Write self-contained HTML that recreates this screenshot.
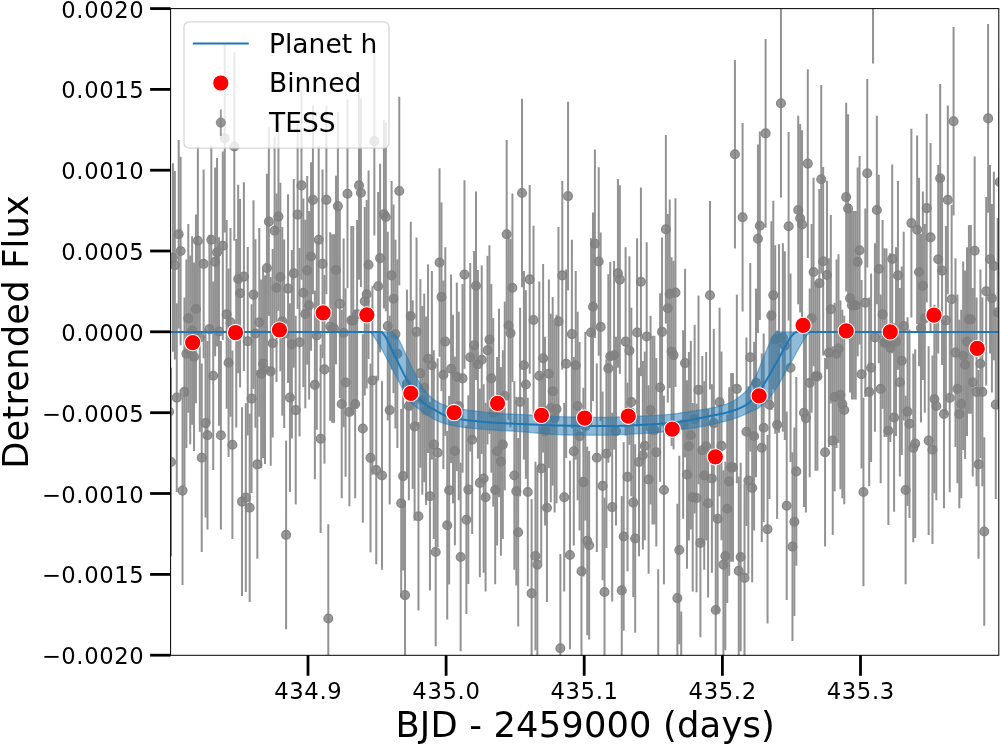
<!DOCTYPE html><html><head><meta charset="utf-8"><title>Transit</title><style>html,body{margin:0;padding:0;background:#fff}svg{display:block}text{font-family:"DejaVu Sans","Liberation Sans",sans-serif;fill:#000}</style></head><body>
<svg width="1000" height="745" viewBox="0 0 1000 745">
<rect width="1000" height="745" fill="#fff"/>
<defs><clipPath id="c"><rect x="170.6" y="8.6" width="828.1999999999999" height="646.6999999999999"/></clipPath></defs>
<g clip-path="url(#c)">
<g stroke="#808080" stroke-opacity="0.86" stroke-width="2.0" fill="none">
<path d="M169.11 317.5V506.1"/>
<path d="M171.03 367.7V556.3"/>
<path d="M172.95 163.2V351.8"/>
<path d="M174.86 171.0V359.6"/>
<path d="M176.78 303.3V491.9"/>
<path d="M178.70 140.0V328.6"/>
<path d="M180.62 156.7V345.3"/>
<path d="M182.54 396.3V584.9"/>
<path d="M184.45 297.6V486.2"/>
<path d="M186.37 259.4V448.0"/>
<path d="M188.29 224.1V412.7"/>
<path d="M190.21 255.6V444.2"/>
<path d="M192.13 236.2V424.8"/>
<path d="M194.04 262.4V451.0"/>
<path d="M195.96 214.6V403.2"/>
<path d="M197.88 146.5V335.1"/>
<path d="M199.80 243.2V431.8"/>
<path d="M201.72 363.4V552.0"/>
<path d="M203.63 169.6V358.2"/>
<path d="M205.55 328.8V517.4"/>
<path d="M207.47 340.9V529.5"/>
<path d="M209.39 234.8V423.4"/>
<path d="M211.31 145.5V334.1"/>
<path d="M213.22 281.5V470.1"/>
<path d="M215.14 167.6V356.2"/>
<path d="M217.06 158.0V346.6"/>
<path d="M218.98 237.2V425.8"/>
<path d="M220.90 340.9V529.5"/>
<path d="M222.81 151.5V340.1"/>
<path d="M224.73 43.8V232.4"/>
<path d="M226.65 220.1V408.7"/>
<path d="M228.57 268.4V457.0"/>
<path d="M230.49 228.1V416.7"/>
<path d="M232.40 350.5V539.1"/>
<path d="M234.32 52.2V240.8"/>
<path d="M236.24 238.9V427.5"/>
<path d="M238.16 184.7V373.3"/>
<path d="M240.08 198.9V387.5"/>
<path d="M241.99 407.3V595.9"/>
<path d="M243.91 182.3V370.9"/>
<path d="M245.83 403.3V591.9"/>
<path d="M247.75 246.9V435.5"/>
<path d="M249.67 413.4V602.0"/>
<path d="M251.58 304.3V492.9"/>
<path d="M253.50 200.3V388.9"/>
<path d="M255.42 239.2V427.8"/>
<path d="M257.34 370.1V558.7"/>
<path d="M259.26 228.1V416.7"/>
<path d="M261.17 279.5V468.1"/>
<path d="M263.09 269.4V458.0"/>
<path d="M265.01 275.4V464.0"/>
<path d="M266.93 173.7V362.3"/>
<path d="M268.85 127.3V315.9"/>
<path d="M270.76 277.1V465.7"/>
<path d="M272.68 248.9V437.5"/>
<path d="M274.60 136.4V325.0"/>
<path d="M276.52 193.5V382.1"/>
<path d="M278.44 122.3V310.9"/>
<path d="M280.35 182.7V371.3"/>
<path d="M282.27 227.1V415.7"/>
<path d="M284.19 239.5V428.1"/>
<path d="M286.11 440.6V629.2"/>
<path d="M288.03 194.3V382.9"/>
<path d="M289.94 303.3V491.9"/>
<path d="M291.86 249.9V438.5"/>
<path d="M293.78 179.1V367.7"/>
<path d="M295.70 315.8V504.4"/>
<path d="M297.62 120.3V308.9"/>
<path d="M299.53 247.9V436.5"/>
<path d="M301.45 91.1V279.7"/>
<path d="M303.37 198.5V387.1"/>
<path d="M305.29 219.7V408.3"/>
<path d="M307.21 176.1V364.7"/>
<path d="M309.12 211.0V399.6"/>
<path d="M311.04 162.2V350.8"/>
<path d="M312.96 105.6V294.2"/>
<path d="M314.88 290.6V479.2"/>
<path d="M316.80 241.2V429.8"/>
<path d="M318.71 145.5V334.1"/>
<path d="M320.63 344.5V533.1"/>
<path d="M322.55 169.6V358.2"/>
<path d="M324.47 275.1V463.7"/>
<path d="M326.39 105.6V294.2"/>
<path d="M328.30 524.2V712.8"/>
<path d="M330.22 232.2V420.8"/>
<path d="M332.14 234.2V422.8"/>
<path d="M334.06 234.2V422.8"/>
<path d="M335.98 175.7V364.3"/>
<path d="M337.89 111.8V300.4"/>
<path d="M339.81 209.6V398.2"/>
<path d="M341.73 309.7V498.3"/>
<path d="M343.65 238.6V427.2"/>
<path d="M345.57 288.2V476.8"/>
<path d="M347.48 99.5V288.1"/>
<path d="M349.40 317.7V506.3"/>
<path d="M351.32 226.1V414.7"/>
<path d="M353.24 226.1V414.7"/>
<path d="M355.16 309.7V498.3"/>
<path d="M357.07 220.1V408.7"/>
<path d="M358.99 91.1V279.7"/>
<path d="M360.91 98.5V287.1"/>
<path d="M362.83 334.2V522.8"/>
<path d="M364.75 207.0V395.6"/>
<path d="M366.66 199.9V388.5"/>
<path d="M368.58 170.5V359.1"/>
<path d="M370.50 363.6V552.2"/>
<path d="M372.42 286.2V474.8"/>
<path d="M374.34 46.8V235.4"/>
<path d="M376.25 375.7V564.3"/>
<path d="M378.17 191.9V380.5"/>
<path d="M380.09 163.8V352.4"/>
<path d="M382.01 381.2V569.8"/>
<path d="M383.93 119.9V308.5"/>
<path d="M385.84 122.7V311.3"/>
<path d="M387.76 231.8V420.4"/>
<path d="M389.68 315.8V504.4"/>
<path d="M391.60 181.1V369.7"/>
<path d="M393.52 204.4V393.0"/>
<path d="M395.43 239.8V428.4"/>
<path d="M397.35 259.4V448.0"/>
<path d="M399.27 96.7V285.3"/>
<path d="M401.19 409.0V597.6"/>
<path d="M403.11 381.8V570.4"/>
<path d="M405.02 500.8V689.4"/>
<path d="M406.94 289.6V478.2"/>
<path d="M408.86 311.7V500.3"/>
<path d="M410.78 221.7V410.3"/>
<path d="M412.70 300.3V488.9"/>
<path d="M414.61 332.2V520.8"/>
<path d="M416.53 237.6V426.2"/>
<path d="M418.45 422.0V610.6"/>
<path d="M420.37 279.1V467.7"/>
<path d="M422.29 306.0V494.6"/>
<path d="M424.20 293.6V482.2"/>
<path d="M426.12 316.5V505.1"/>
<path d="M428.04 264.4V453.0"/>
<path d="M429.96 401.9V590.5"/>
<path d="M431.88 271.0V459.6"/>
<path d="M433.79 350.3V538.9"/>
<path d="M435.71 457.7V646.3"/>
<path d="M437.63 358.4V547.0"/>
<path d="M439.55 168.2V356.8"/>
<path d="M441.47 202.6V391.2"/>
<path d="M443.38 280.5V469.1"/>
<path d="M445.30 247.3V435.9"/>
<path d="M447.22 430.9V619.5"/>
<path d="M449.14 395.9V584.5"/>
<path d="M451.06 274.5V463.1"/>
<path d="M452.97 314.8V503.4"/>
<path d="M454.89 356.6V545.2"/>
<path d="M456.81 282.5V471.1"/>
<path d="M458.73 311.7V500.3"/>
<path d="M460.65 462.7V651.3"/>
<path d="M462.56 284.1V472.7"/>
<path d="M464.48 180.3V368.9"/>
<path d="M466.40 425.5V614.1"/>
<path d="M468.32 395.3V583.9"/>
<path d="M470.24 263.0V451.6"/>
<path d="M472.15 345.5V534.1"/>
<path d="M474.07 250.9V439.5"/>
<path d="M475.99 191.5V380.1"/>
<path d="M477.91 270.0V458.6"/>
<path d="M479.83 388.6V577.2"/>
<path d="M481.74 265.4V454.0"/>
<path d="M483.66 384.2V572.8"/>
<path d="M485.58 402.9V591.5"/>
<path d="M487.50 255.9V444.5"/>
<path d="M489.42 245.3V433.9"/>
<path d="M491.33 284.1V472.7"/>
<path d="M493.25 318.1V506.7"/>
<path d="M495.17 395.7V584.3"/>
<path d="M497.09 357.0V545.6"/>
<path d="M499.01 308.6V497.2"/>
<path d="M500.92 367.1V555.7"/>
<path d="M502.84 350.3V538.9"/>
<path d="M504.76 301.7V490.3"/>
<path d="M506.68 140.0V328.6"/>
<path d="M508.60 231.2V419.8"/>
<path d="M510.51 238.8V427.4"/>
<path d="M512.43 193.5V382.1"/>
<path d="M514.35 381.2V569.8"/>
<path d="M516.27 396.9V585.5"/>
<path d="M518.19 438.0V626.6"/>
<path d="M520.10 307.7V496.3"/>
<path d="M522.02 98.7V287.3"/>
<path d="M523.94 271.0V459.6"/>
<path d="M525.86 290.2V478.8"/>
<path d="M527.78 397.7V586.3"/>
<path d="M529.69 185.1V373.7"/>
<path d="M531.61 499.1V687.7"/>
<path d="M533.53 225.7V414.3"/>
<path d="M535.45 461.7V650.3"/>
<path d="M537.37 470.3V658.9"/>
<path d="M539.28 281.5V470.1"/>
<path d="M541.20 374.1V562.7"/>
<path d="M543.12 264.0V452.6"/>
<path d="M545.04 336.8V525.4"/>
<path d="M546.96 413.4V602.0"/>
<path d="M548.87 279.5V468.1"/>
<path d="M550.79 313.7V502.3"/>
<path d="M552.71 297.0V485.6"/>
<path d="M554.63 323.8V512.4"/>
<path d="M556.55 314.7V503.3"/>
<path d="M558.46 227.1V415.7"/>
<path d="M560.38 553.9V742.5"/>
<path d="M562.30 181.1V369.7"/>
<path d="M564.22 402.9V591.5"/>
<path d="M566.14 269.4V458.0"/>
<path d="M568.05 101.8V290.4"/>
<path d="M569.97 460.7V649.3"/>
<path d="M571.89 239.8V428.4"/>
<path d="M573.81 357.0V545.6"/>
<path d="M575.73 271.0V459.6"/>
<path d="M577.64 311.7V500.3"/>
<path d="M579.56 341.9V530.5"/>
<path d="M581.48 477.0V665.6"/>
<path d="M583.40 387.8V576.4"/>
<path d="M585.32 331.9V520.5"/>
<path d="M587.23 446.6V635.2"/>
<path d="M589.15 451.0V639.6"/>
<path d="M591.07 238.2V426.8"/>
<path d="M592.99 212.4V401.0"/>
<path d="M594.91 149.5V338.1"/>
<path d="M596.82 363.4V552.0"/>
<path d="M598.74 167.2V355.8"/>
<path d="M600.66 232.6V421.2"/>
<path d="M602.58 391.6V580.2"/>
<path d="M604.50 497.7V686.3"/>
<path d="M606.41 359.4V548.0"/>
<path d="M608.33 274.1V462.7"/>
<path d="M610.25 262.0V450.6"/>
<path d="M612.17 412.8V601.4"/>
<path d="M614.09 261.0V449.6"/>
<path d="M616.00 336.8V525.4"/>
<path d="M617.92 179.1V367.7"/>
<path d="M619.84 185.3V373.9"/>
<path d="M621.76 496.1V684.7"/>
<path d="M623.68 442.2V630.8"/>
<path d="M625.59 247.3V435.9"/>
<path d="M627.51 382.6V571.2"/>
<path d="M629.43 256.3V444.9"/>
<path d="M631.35 307.7V496.3"/>
<path d="M633.27 408.3V596.9"/>
<path d="M635.18 444.2V632.8"/>
<path d="M637.10 238.2V426.8"/>
<path d="M639.02 367.7V556.3"/>
<path d="M640.94 187.5V376.1"/>
<path d="M642.86 361.0V549.6"/>
<path d="M644.77 351.6V540.2"/>
<path d="M646.69 242.2V430.8"/>
<path d="M648.61 385.2V573.8"/>
<path d="M650.53 315.8V504.4"/>
<path d="M652.45 335.8V524.4"/>
<path d="M654.36 335.8V524.4"/>
<path d="M656.28 358.0V546.6"/>
<path d="M658.20 569.3V757.9"/>
<path d="M660.12 293.2V481.8"/>
<path d="M662.04 237.6V426.2"/>
<path d="M663.95 395.7V584.3"/>
<path d="M665.87 135.0V323.6"/>
<path d="M667.79 214.0V402.6"/>
<path d="M669.71 199.5V388.1"/>
<path d="M671.63 257.3V445.9"/>
<path d="M673.54 260.8V449.4"/>
<path d="M675.46 198.3V386.9"/>
<path d="M677.38 503.8V692.4"/>
<path d="M679.30 455.7V644.3"/>
<path d="M681.22 611.6V800.2"/>
<path d="M683.13 330.2V518.8"/>
<path d="M685.05 268.8V457.4"/>
<path d="M686.97 380.2V568.8"/>
<path d="M688.89 352.0V540.6"/>
<path d="M690.81 340.9V529.5"/>
<path d="M692.72 403.0V591.6"/>
<path d="M694.64 324.8V513.4"/>
<path d="M696.56 403.7V592.3"/>
<path d="M698.48 295.6V484.2"/>
<path d="M700.40 448.6V637.2"/>
<path d="M702.31 356.0V544.6"/>
<path d="M704.23 381.2V569.8"/>
<path d="M706.15 352.0V540.6"/>
<path d="M708.07 409.0V597.6"/>
<path d="M709.99 200.9V389.5"/>
<path d="M711.90 384.2V572.8"/>
<path d="M713.82 328.8V517.4"/>
<path d="M715.74 515.7V704.3"/>
<path d="M717.66 424.5V613.1"/>
<path d="M719.58 307.7V496.3"/>
<path d="M721.49 351.6V540.2"/>
<path d="M723.41 470.3V658.9"/>
<path d="M725.33 461.7V650.3"/>
<path d="M727.25 414.4V603.0"/>
<path d="M729.17 387.2V575.8"/>
<path d="M731.08 373.1V561.7"/>
<path d="M733.00 373.1V561.7"/>
<path d="M734.92 59.9V248.5"/>
<path d="M736.84 294.6V483.2"/>
<path d="M738.76 476.6V665.2"/>
<path d="M740.67 462.7V651.3"/>
<path d="M742.59 122.9V311.5"/>
<path d="M744.51 483.6V672.2"/>
<path d="M746.43 337.5V526.1"/>
<path d="M748.35 386.2V574.8"/>
<path d="M750.26 263.0V451.6"/>
<path d="M752.18 393.6V582.2"/>
<path d="M754.10 341.9V530.5"/>
<path d="M756.02 288.6V477.2"/>
<path d="M757.94 144.5V333.1"/>
<path d="M759.85 131.4V320.0"/>
<path d="M761.77 353.4V542.0"/>
<path d="M763.69 333.4V522.0"/>
<path d="M765.61 39.1V227.7"/>
<path d="M767.53 435.0V623.6"/>
<path d="M769.44 310.5V499.1"/>
<path d="M771.36 221.3V409.9"/>
<path d="M773.28 200.8V389.4"/>
<path d="M775.20 245.2V433.8"/>
<path d="M777.12 330.4V519.0"/>
<path d="M779.03 244.2V432.8"/>
<path d="M780.95 9.0V197.6"/>
<path d="M782.87 243.2V431.8"/>
<path d="M784.79 251.3V439.9"/>
<path d="M786.71 411.4V600.0"/>
<path d="M788.62 132.0V320.6"/>
<path d="M790.54 273.5V462.1"/>
<path d="M792.46 452.3V640.9"/>
<path d="M794.38 427.5V616.1"/>
<path d="M796.30 377.1V565.7"/>
<path d="M798.21 115.7V304.3"/>
<path d="M800.13 123.9V312.5"/>
<path d="M802.05 130.2V318.8"/>
<path d="M803.97 318.5V507.1"/>
<path d="M805.89 323.8V512.4"/>
<path d="M807.80 69.3V257.9"/>
<path d="M809.72 288.6V477.2"/>
<path d="M811.64 224.1V412.7"/>
<path d="M813.56 177.7V366.3"/>
<path d="M815.48 282.1V470.7"/>
<path d="M817.39 282.1V470.7"/>
<path d="M819.31 188.9V377.5"/>
<path d="M821.23 85.0V273.6"/>
<path d="M823.15 167.0V355.6"/>
<path d="M825.07 358.0V546.6"/>
<path d="M826.98 180.7V369.3"/>
<path d="M828.90 258.3V446.9"/>
<path d="M830.82 215.0V403.6"/>
<path d="M832.74 346.3V534.9"/>
<path d="M834.66 302.7V491.3"/>
<path d="M836.57 259.4V448.0"/>
<path d="M838.49 254.3V442.9"/>
<path d="M840.41 300.6V489.2"/>
<path d="M842.33 309.7V498.3"/>
<path d="M844.25 315.7V504.3"/>
<path d="M846.16 102.8V291.4"/>
<path d="M848.08 114.2V302.8"/>
<path d="M850.00 204.0V392.6"/>
<path d="M851.92 211.0V399.6"/>
<path d="M853.84 211.0V399.6"/>
<path d="M855.75 211.0V399.6"/>
<path d="M857.67 167.6V356.2"/>
<path d="M859.59 155.9V344.5"/>
<path d="M861.51 279.9V468.5"/>
<path d="M863.43 397.7V586.3"/>
<path d="M865.34 208.4V397.0"/>
<path d="M867.26 79.0V267.6"/>
<path d="M869.18 297.6V486.2"/>
<path d="M871.10 273.5V462.1"/>
<path d="M873.02 -125.2V63.4"/>
<path d="M874.93 243.2V431.8"/>
<path d="M876.85 115.7V304.3"/>
<path d="M878.77 174.7V363.3"/>
<path d="M880.69 294.6V483.2"/>
<path d="M882.61 220.1V408.7"/>
<path d="M884.52 248.3V436.9"/>
<path d="M886.44 248.4V437.0"/>
<path d="M888.36 336.4V525.0"/>
<path d="M890.28 253.3V441.9"/>
<path d="M892.20 164.6V353.2"/>
<path d="M894.11 323.2V511.8"/>
<path d="M896.03 247.3V435.9"/>
<path d="M897.95 181.1V369.7"/>
<path d="M899.87 288.0V476.6"/>
<path d="M901.79 266.4V455.0"/>
<path d="M903.70 231.8V420.4"/>
<path d="M905.62 395.7V584.3"/>
<path d="M907.54 317.3V505.9"/>
<path d="M909.46 329.4V518.0"/>
<path d="M911.38 128.8V317.4"/>
<path d="M913.29 353.6V542.2"/>
<path d="M915.21 349.3V537.9"/>
<path d="M917.13 135.4V324.0"/>
<path d="M919.05 177.7V366.3"/>
<path d="M920.97 233.8V422.4"/>
<path d="M922.88 191.5V380.1"/>
<path d="M924.80 224.1V412.7"/>
<path d="M926.72 113.8V302.4"/>
<path d="M928.64 346.3V534.9"/>
<path d="M930.56 143.1V331.7"/>
<path d="M932.47 355.4V544.0"/>
<path d="M934.39 304.7V493.3"/>
<path d="M936.31 311.7V500.3"/>
<path d="M938.23 165.0V353.6"/>
<path d="M940.15 84.0V272.6"/>
<path d="M942.06 176.3V364.9"/>
<path d="M943.98 319.7V508.3"/>
<path d="M945.90 226.1V414.7"/>
<path d="M947.82 105.6V294.2"/>
<path d="M949.74 303.7V492.3"/>
<path d="M951.65 205.0V393.6"/>
<path d="M953.57 26.9V215.5"/>
<path d="M955.49 258.3V446.9"/>
<path d="M957.41 294.6V483.2"/>
<path d="M959.33 319.7V508.3"/>
<path d="M961.24 309.7V498.3"/>
<path d="M963.16 261.4V450.0"/>
<path d="M965.08 270.4V459.0"/>
<path d="M967.00 247.3V435.9"/>
<path d="M968.92 225.1V413.7"/>
<path d="M970.83 225.1V413.7"/>
<path d="M972.75 288.0V476.6"/>
<path d="M974.67 156.5V345.1"/>
<path d="M976.59 297.6V486.2"/>
<path d="M978.51 370.1V558.7"/>
<path d="M980.42 269.4V458.0"/>
<path d="M982.34 297.6V486.2"/>
<path d="M984.26 437.2V625.8"/>
<path d="M986.18 196.9V385.5"/>
<path d="M988.10 24.1V212.7"/>
<path d="M990.01 165.0V353.6"/>
<path d="M991.93 204.0V392.6"/>
<path d="M993.85 171.7V360.3"/>
<path d="M995.77 310.3V498.9"/>
<path d="M997.69 218.1V406.7"/>
<path d="M999.60 87.7V276.3"/>
</g>
<g fill="#808080" fill-opacity="0.8" stroke="#808080" stroke-opacity="0.92" stroke-width="1.26">
<circle cx="169.11" cy="411.8" r="4.4"/>
<circle cx="171.03" cy="462.0" r="4.4"/>
<circle cx="172.95" cy="257.5" r="4.4"/>
<circle cx="174.86" cy="265.3" r="4.4"/>
<circle cx="176.78" cy="397.6" r="4.4"/>
<circle cx="178.70" cy="234.3" r="4.4"/>
<circle cx="180.62" cy="251.0" r="4.4"/>
<circle cx="182.54" cy="490.6" r="4.4"/>
<circle cx="184.45" cy="391.9" r="4.4"/>
<circle cx="186.37" cy="353.7" r="4.4"/>
<circle cx="188.29" cy="318.4" r="4.4"/>
<circle cx="190.21" cy="349.9" r="4.4"/>
<circle cx="192.13" cy="330.5" r="4.4"/>
<circle cx="194.04" cy="356.7" r="4.4"/>
<circle cx="195.96" cy="308.9" r="4.4"/>
<circle cx="197.88" cy="240.8" r="4.4"/>
<circle cx="199.80" cy="337.5" r="4.4"/>
<circle cx="201.72" cy="457.7" r="4.4"/>
<circle cx="203.63" cy="263.9" r="4.4"/>
<circle cx="205.55" cy="423.1" r="4.4"/>
<circle cx="207.47" cy="435.2" r="4.4"/>
<circle cx="209.39" cy="329.1" r="4.4"/>
<circle cx="211.31" cy="239.8" r="4.4"/>
<circle cx="213.22" cy="375.8" r="4.4"/>
<circle cx="215.14" cy="261.9" r="4.4"/>
<circle cx="217.06" cy="252.3" r="4.4"/>
<circle cx="218.98" cy="331.5" r="4.4"/>
<circle cx="220.90" cy="435.2" r="4.4"/>
<circle cx="222.81" cy="245.8" r="4.4"/>
<circle cx="224.73" cy="138.1" r="4.4"/>
<circle cx="226.65" cy="314.4" r="4.4"/>
<circle cx="228.57" cy="362.7" r="4.4"/>
<circle cx="230.49" cy="322.4" r="4.4"/>
<circle cx="232.40" cy="444.8" r="4.4"/>
<circle cx="234.32" cy="146.5" r="4.4"/>
<circle cx="236.24" cy="333.2" r="4.4"/>
<circle cx="238.16" cy="279.0" r="4.4"/>
<circle cx="240.08" cy="293.2" r="4.4"/>
<circle cx="241.99" cy="501.6" r="4.4"/>
<circle cx="243.91" cy="276.6" r="4.4"/>
<circle cx="245.83" cy="497.6" r="4.4"/>
<circle cx="247.75" cy="341.2" r="4.4"/>
<circle cx="249.67" cy="507.7" r="4.4"/>
<circle cx="251.58" cy="398.6" r="4.4"/>
<circle cx="253.50" cy="294.6" r="4.4"/>
<circle cx="255.42" cy="333.5" r="4.4"/>
<circle cx="257.34" cy="464.4" r="4.4"/>
<circle cx="259.26" cy="322.4" r="4.4"/>
<circle cx="261.17" cy="373.8" r="4.4"/>
<circle cx="263.09" cy="363.7" r="4.4"/>
<circle cx="265.01" cy="369.7" r="4.4"/>
<circle cx="266.93" cy="268.0" r="4.4"/>
<circle cx="268.85" cy="221.6" r="4.4"/>
<circle cx="270.76" cy="371.4" r="4.4"/>
<circle cx="272.68" cy="343.2" r="4.4"/>
<circle cx="274.60" cy="230.7" r="4.4"/>
<circle cx="276.52" cy="287.8" r="4.4"/>
<circle cx="278.44" cy="216.6" r="4.4"/>
<circle cx="280.35" cy="277.0" r="4.4"/>
<circle cx="282.27" cy="321.4" r="4.4"/>
<circle cx="284.19" cy="333.8" r="4.4"/>
<circle cx="286.11" cy="534.9" r="4.4"/>
<circle cx="288.03" cy="288.6" r="4.4"/>
<circle cx="289.94" cy="397.6" r="4.4"/>
<circle cx="291.86" cy="344.2" r="4.4"/>
<circle cx="293.78" cy="273.4" r="4.4"/>
<circle cx="295.70" cy="410.1" r="4.4"/>
<circle cx="297.62" cy="214.6" r="4.4"/>
<circle cx="299.53" cy="342.2" r="4.4"/>
<circle cx="301.45" cy="185.4" r="4.4"/>
<circle cx="303.37" cy="292.8" r="4.4"/>
<circle cx="305.29" cy="314.0" r="4.4"/>
<circle cx="307.21" cy="270.4" r="4.4"/>
<circle cx="309.12" cy="305.3" r="4.4"/>
<circle cx="311.04" cy="256.5" r="4.4"/>
<circle cx="312.96" cy="199.9" r="4.4"/>
<circle cx="314.88" cy="384.9" r="4.4"/>
<circle cx="316.80" cy="335.5" r="4.4"/>
<circle cx="318.71" cy="239.8" r="4.4"/>
<circle cx="320.63" cy="438.8" r="4.4"/>
<circle cx="322.55" cy="263.9" r="4.4"/>
<circle cx="324.47" cy="369.4" r="4.4"/>
<circle cx="326.39" cy="199.9" r="4.4"/>
<circle cx="328.30" cy="618.5" r="4.4"/>
<circle cx="330.22" cy="326.5" r="4.4"/>
<circle cx="332.14" cy="328.5" r="4.4"/>
<circle cx="334.06" cy="328.5" r="4.4"/>
<circle cx="335.98" cy="270.0" r="4.4"/>
<circle cx="337.89" cy="206.1" r="4.4"/>
<circle cx="339.81" cy="303.9" r="4.4"/>
<circle cx="341.73" cy="404.0" r="4.4"/>
<circle cx="343.65" cy="332.9" r="4.4"/>
<circle cx="345.57" cy="382.5" r="4.4"/>
<circle cx="347.48" cy="193.8" r="4.4"/>
<circle cx="349.40" cy="412.0" r="4.4"/>
<circle cx="351.32" cy="320.4" r="4.4"/>
<circle cx="353.24" cy="320.4" r="4.4"/>
<circle cx="355.16" cy="404.0" r="4.4"/>
<circle cx="357.07" cy="314.4" r="4.4"/>
<circle cx="358.99" cy="185.4" r="4.4"/>
<circle cx="360.91" cy="192.8" r="4.4"/>
<circle cx="362.83" cy="428.5" r="4.4"/>
<circle cx="364.75" cy="301.3" r="4.4"/>
<circle cx="366.66" cy="294.2" r="4.4"/>
<circle cx="368.58" cy="264.8" r="4.4"/>
<circle cx="370.50" cy="457.9" r="4.4"/>
<circle cx="372.42" cy="380.5" r="4.4"/>
<circle cx="374.34" cy="141.1" r="4.4"/>
<circle cx="376.25" cy="470.0" r="4.4"/>
<circle cx="378.17" cy="286.2" r="4.4"/>
<circle cx="380.09" cy="258.1" r="4.4"/>
<circle cx="382.01" cy="475.5" r="4.4"/>
<circle cx="383.93" cy="214.2" r="4.4"/>
<circle cx="385.84" cy="217.0" r="4.4"/>
<circle cx="387.76" cy="326.1" r="4.4"/>
<circle cx="389.68" cy="410.1" r="4.4"/>
<circle cx="391.60" cy="275.4" r="4.4"/>
<circle cx="393.52" cy="298.7" r="4.4"/>
<circle cx="395.43" cy="334.1" r="4.4"/>
<circle cx="397.35" cy="353.7" r="4.4"/>
<circle cx="399.27" cy="191.0" r="4.4"/>
<circle cx="401.19" cy="503.3" r="4.4"/>
<circle cx="403.11" cy="476.1" r="4.4"/>
<circle cx="405.02" cy="595.1" r="4.4"/>
<circle cx="406.94" cy="383.9" r="4.4"/>
<circle cx="408.86" cy="406.0" r="4.4"/>
<circle cx="410.78" cy="316.0" r="4.4"/>
<circle cx="412.70" cy="394.6" r="4.4"/>
<circle cx="414.61" cy="426.5" r="4.4"/>
<circle cx="416.53" cy="331.9" r="4.4"/>
<circle cx="418.45" cy="516.3" r="4.4"/>
<circle cx="420.37" cy="373.4" r="4.4"/>
<circle cx="422.29" cy="400.3" r="4.4"/>
<circle cx="424.20" cy="387.9" r="4.4"/>
<circle cx="426.12" cy="410.8" r="4.4"/>
<circle cx="428.04" cy="358.7" r="4.4"/>
<circle cx="429.96" cy="496.2" r="4.4"/>
<circle cx="431.88" cy="365.3" r="4.4"/>
<circle cx="433.79" cy="444.6" r="4.4"/>
<circle cx="435.71" cy="552.0" r="4.4"/>
<circle cx="437.63" cy="452.7" r="4.4"/>
<circle cx="439.55" cy="262.5" r="4.4"/>
<circle cx="441.47" cy="296.9" r="4.4"/>
<circle cx="443.38" cy="374.8" r="4.4"/>
<circle cx="445.30" cy="341.6" r="4.4"/>
<circle cx="447.22" cy="525.2" r="4.4"/>
<circle cx="449.14" cy="490.2" r="4.4"/>
<circle cx="451.06" cy="368.8" r="4.4"/>
<circle cx="452.97" cy="409.1" r="4.4"/>
<circle cx="454.89" cy="450.9" r="4.4"/>
<circle cx="456.81" cy="376.8" r="4.4"/>
<circle cx="458.73" cy="406.0" r="4.4"/>
<circle cx="460.65" cy="557.0" r="4.4"/>
<circle cx="462.56" cy="378.4" r="4.4"/>
<circle cx="464.48" cy="274.6" r="4.4"/>
<circle cx="466.40" cy="519.8" r="4.4"/>
<circle cx="468.32" cy="489.6" r="4.4"/>
<circle cx="470.24" cy="357.3" r="4.4"/>
<circle cx="472.15" cy="439.8" r="4.4"/>
<circle cx="474.07" cy="345.2" r="4.4"/>
<circle cx="475.99" cy="285.8" r="4.4"/>
<circle cx="477.91" cy="364.3" r="4.4"/>
<circle cx="479.83" cy="482.9" r="4.4"/>
<circle cx="481.74" cy="359.7" r="4.4"/>
<circle cx="483.66" cy="478.5" r="4.4"/>
<circle cx="485.58" cy="497.2" r="4.4"/>
<circle cx="487.50" cy="350.2" r="4.4"/>
<circle cx="489.42" cy="339.6" r="4.4"/>
<circle cx="491.33" cy="378.4" r="4.4"/>
<circle cx="493.25" cy="412.4" r="4.4"/>
<circle cx="495.17" cy="490.0" r="4.4"/>
<circle cx="497.09" cy="451.3" r="4.4"/>
<circle cx="499.01" cy="402.9" r="4.4"/>
<circle cx="500.92" cy="461.4" r="4.4"/>
<circle cx="502.84" cy="444.6" r="4.4"/>
<circle cx="504.76" cy="396.0" r="4.4"/>
<circle cx="506.68" cy="234.3" r="4.4"/>
<circle cx="508.60" cy="325.5" r="4.4"/>
<circle cx="510.51" cy="333.1" r="4.4"/>
<circle cx="512.43" cy="287.8" r="4.4"/>
<circle cx="514.35" cy="475.5" r="4.4"/>
<circle cx="516.27" cy="491.2" r="4.4"/>
<circle cx="518.19" cy="532.3" r="4.4"/>
<circle cx="520.10" cy="402.0" r="4.4"/>
<circle cx="522.02" cy="193.0" r="4.4"/>
<circle cx="523.94" cy="365.3" r="4.4"/>
<circle cx="525.86" cy="384.5" r="4.4"/>
<circle cx="527.78" cy="492.0" r="4.4"/>
<circle cx="529.69" cy="279.4" r="4.4"/>
<circle cx="531.61" cy="593.4" r="4.4"/>
<circle cx="533.53" cy="320.0" r="4.4"/>
<circle cx="535.45" cy="556.0" r="4.4"/>
<circle cx="537.37" cy="564.6" r="4.4"/>
<circle cx="539.28" cy="375.8" r="4.4"/>
<circle cx="541.20" cy="468.4" r="4.4"/>
<circle cx="543.12" cy="358.3" r="4.4"/>
<circle cx="545.04" cy="431.1" r="4.4"/>
<circle cx="546.96" cy="507.7" r="4.4"/>
<circle cx="548.87" cy="373.8" r="4.4"/>
<circle cx="550.79" cy="408.0" r="4.4"/>
<circle cx="552.71" cy="391.3" r="4.4"/>
<circle cx="554.63" cy="418.1" r="4.4"/>
<circle cx="556.55" cy="409.0" r="4.4"/>
<circle cx="558.46" cy="321.4" r="4.4"/>
<circle cx="560.38" cy="648.2" r="4.4"/>
<circle cx="562.30" cy="275.4" r="4.4"/>
<circle cx="564.22" cy="497.2" r="4.4"/>
<circle cx="566.14" cy="363.7" r="4.4"/>
<circle cx="568.05" cy="196.1" r="4.4"/>
<circle cx="569.97" cy="555.0" r="4.4"/>
<circle cx="571.89" cy="334.1" r="4.4"/>
<circle cx="573.81" cy="451.3" r="4.4"/>
<circle cx="575.73" cy="365.3" r="4.4"/>
<circle cx="577.64" cy="406.0" r="4.4"/>
<circle cx="579.56" cy="436.2" r="4.4"/>
<circle cx="581.48" cy="571.3" r="4.4"/>
<circle cx="583.40" cy="482.1" r="4.4"/>
<circle cx="585.32" cy="426.2" r="4.4"/>
<circle cx="587.23" cy="540.9" r="4.4"/>
<circle cx="589.15" cy="545.3" r="4.4"/>
<circle cx="591.07" cy="332.5" r="4.4"/>
<circle cx="592.99" cy="306.7" r="4.4"/>
<circle cx="594.91" cy="243.8" r="4.4"/>
<circle cx="596.82" cy="457.7" r="4.4"/>
<circle cx="598.74" cy="261.5" r="4.4"/>
<circle cx="600.66" cy="326.9" r="4.4"/>
<circle cx="602.58" cy="485.9" r="4.4"/>
<circle cx="604.50" cy="592.0" r="4.4"/>
<circle cx="606.41" cy="453.7" r="4.4"/>
<circle cx="608.33" cy="368.4" r="4.4"/>
<circle cx="610.25" cy="356.3" r="4.4"/>
<circle cx="612.17" cy="507.1" r="4.4"/>
<circle cx="614.09" cy="355.3" r="4.4"/>
<circle cx="616.00" cy="431.1" r="4.4"/>
<circle cx="617.92" cy="273.4" r="4.4"/>
<circle cx="619.84" cy="279.6" r="4.4"/>
<circle cx="621.76" cy="590.4" r="4.4"/>
<circle cx="623.68" cy="536.5" r="4.4"/>
<circle cx="625.59" cy="341.6" r="4.4"/>
<circle cx="627.51" cy="476.9" r="4.4"/>
<circle cx="629.43" cy="350.6" r="4.4"/>
<circle cx="631.35" cy="402.0" r="4.4"/>
<circle cx="633.27" cy="502.6" r="4.4"/>
<circle cx="635.18" cy="538.5" r="4.4"/>
<circle cx="637.10" cy="332.5" r="4.4"/>
<circle cx="639.02" cy="462.0" r="4.4"/>
<circle cx="640.94" cy="281.8" r="4.4"/>
<circle cx="642.86" cy="455.3" r="4.4"/>
<circle cx="644.77" cy="445.9" r="4.4"/>
<circle cx="646.69" cy="336.5" r="4.4"/>
<circle cx="648.61" cy="479.5" r="4.4"/>
<circle cx="650.53" cy="410.1" r="4.4"/>
<circle cx="652.45" cy="430.1" r="4.4"/>
<circle cx="654.36" cy="430.1" r="4.4"/>
<circle cx="656.28" cy="452.3" r="4.4"/>
<circle cx="658.20" cy="663.6" r="4.4"/>
<circle cx="660.12" cy="387.5" r="4.4"/>
<circle cx="662.04" cy="331.9" r="4.4"/>
<circle cx="663.95" cy="490.0" r="4.4"/>
<circle cx="665.87" cy="229.3" r="4.4"/>
<circle cx="667.79" cy="308.3" r="4.4"/>
<circle cx="669.71" cy="293.8" r="4.4"/>
<circle cx="671.63" cy="351.6" r="4.4"/>
<circle cx="673.54" cy="355.1" r="4.4"/>
<circle cx="675.46" cy="292.6" r="4.4"/>
<circle cx="677.38" cy="598.1" r="4.4"/>
<circle cx="679.30" cy="550.0" r="4.4"/>
<circle cx="681.22" cy="705.9" r="4.4"/>
<circle cx="683.13" cy="424.5" r="4.4"/>
<circle cx="685.05" cy="363.1" r="4.4"/>
<circle cx="686.97" cy="474.5" r="4.4"/>
<circle cx="688.89" cy="446.3" r="4.4"/>
<circle cx="690.81" cy="435.2" r="4.4"/>
<circle cx="692.72" cy="497.3" r="4.4"/>
<circle cx="694.64" cy="419.1" r="4.4"/>
<circle cx="696.56" cy="498.0" r="4.4"/>
<circle cx="698.48" cy="389.9" r="4.4"/>
<circle cx="700.40" cy="542.9" r="4.4"/>
<circle cx="702.31" cy="450.3" r="4.4"/>
<circle cx="704.23" cy="475.5" r="4.4"/>
<circle cx="706.15" cy="446.3" r="4.4"/>
<circle cx="708.07" cy="503.3" r="4.4"/>
<circle cx="709.99" cy="295.2" r="4.4"/>
<circle cx="711.90" cy="478.5" r="4.4"/>
<circle cx="713.82" cy="423.1" r="4.4"/>
<circle cx="715.74" cy="610.0" r="4.4"/>
<circle cx="717.66" cy="518.8" r="4.4"/>
<circle cx="719.58" cy="402.0" r="4.4"/>
<circle cx="721.49" cy="445.9" r="4.4"/>
<circle cx="723.41" cy="564.6" r="4.4"/>
<circle cx="725.33" cy="556.0" r="4.4"/>
<circle cx="727.25" cy="508.7" r="4.4"/>
<circle cx="729.17" cy="481.5" r="4.4"/>
<circle cx="731.08" cy="467.4" r="4.4"/>
<circle cx="733.00" cy="467.4" r="4.4"/>
<circle cx="734.92" cy="154.2" r="4.4"/>
<circle cx="736.84" cy="388.9" r="4.4"/>
<circle cx="738.76" cy="570.9" r="4.4"/>
<circle cx="740.67" cy="557.0" r="4.4"/>
<circle cx="742.59" cy="217.2" r="4.4"/>
<circle cx="744.51" cy="577.9" r="4.4"/>
<circle cx="746.43" cy="431.8" r="4.4"/>
<circle cx="748.35" cy="480.5" r="4.4"/>
<circle cx="750.26" cy="357.3" r="4.4"/>
<circle cx="752.18" cy="487.9" r="4.4"/>
<circle cx="754.10" cy="436.2" r="4.4"/>
<circle cx="756.02" cy="382.9" r="4.4"/>
<circle cx="757.94" cy="238.8" r="4.4"/>
<circle cx="759.85" cy="225.7" r="4.4"/>
<circle cx="761.77" cy="447.7" r="4.4"/>
<circle cx="763.69" cy="427.7" r="4.4"/>
<circle cx="765.61" cy="133.4" r="4.4"/>
<circle cx="767.53" cy="529.3" r="4.4"/>
<circle cx="769.44" cy="404.8" r="4.4"/>
<circle cx="771.36" cy="315.6" r="4.4"/>
<circle cx="773.28" cy="295.1" r="4.4"/>
<circle cx="775.20" cy="339.5" r="4.4"/>
<circle cx="777.12" cy="424.7" r="4.4"/>
<circle cx="779.03" cy="338.5" r="4.4"/>
<circle cx="780.95" cy="103.3" r="4.4"/>
<circle cx="782.87" cy="337.5" r="4.4"/>
<circle cx="784.79" cy="345.6" r="4.4"/>
<circle cx="786.71" cy="505.7" r="4.4"/>
<circle cx="788.62" cy="226.3" r="4.4"/>
<circle cx="790.54" cy="367.8" r="4.4"/>
<circle cx="792.46" cy="546.6" r="4.4"/>
<circle cx="794.38" cy="521.8" r="4.4"/>
<circle cx="796.30" cy="471.4" r="4.4"/>
<circle cx="798.21" cy="210.0" r="4.4"/>
<circle cx="800.13" cy="218.2" r="4.4"/>
<circle cx="802.05" cy="224.5" r="4.4"/>
<circle cx="803.97" cy="412.8" r="4.4"/>
<circle cx="805.89" cy="418.1" r="4.4"/>
<circle cx="807.80" cy="163.6" r="4.4"/>
<circle cx="809.72" cy="382.9" r="4.4"/>
<circle cx="811.64" cy="318.4" r="4.4"/>
<circle cx="813.56" cy="272.0" r="4.4"/>
<circle cx="815.48" cy="376.4" r="4.4"/>
<circle cx="817.39" cy="376.4" r="4.4"/>
<circle cx="819.31" cy="283.2" r="4.4"/>
<circle cx="821.23" cy="179.3" r="4.4"/>
<circle cx="823.15" cy="261.3" r="4.4"/>
<circle cx="825.07" cy="452.3" r="4.4"/>
<circle cx="826.98" cy="275.0" r="4.4"/>
<circle cx="828.90" cy="352.6" r="4.4"/>
<circle cx="830.82" cy="309.3" r="4.4"/>
<circle cx="832.74" cy="440.6" r="4.4"/>
<circle cx="834.66" cy="397.0" r="4.4"/>
<circle cx="836.57" cy="353.7" r="4.4"/>
<circle cx="838.49" cy="348.6" r="4.4"/>
<circle cx="840.41" cy="394.9" r="4.4"/>
<circle cx="842.33" cy="404.0" r="4.4"/>
<circle cx="844.25" cy="410.0" r="4.4"/>
<circle cx="846.16" cy="197.1" r="4.4"/>
<circle cx="848.08" cy="208.5" r="4.4"/>
<circle cx="850.00" cy="298.3" r="4.4"/>
<circle cx="851.92" cy="305.3" r="4.4"/>
<circle cx="853.84" cy="305.3" r="4.4"/>
<circle cx="855.75" cy="305.3" r="4.4"/>
<circle cx="857.67" cy="261.9" r="4.4"/>
<circle cx="859.59" cy="250.2" r="4.4"/>
<circle cx="861.51" cy="374.2" r="4.4"/>
<circle cx="863.43" cy="492.0" r="4.4"/>
<circle cx="865.34" cy="302.7" r="4.4"/>
<circle cx="867.26" cy="173.3" r="4.4"/>
<circle cx="869.18" cy="391.9" r="4.4"/>
<circle cx="871.10" cy="367.8" r="4.4"/>
<circle cx="873.02" cy="-30.9" r="4.4"/>
<circle cx="874.93" cy="337.5" r="4.4"/>
<circle cx="876.85" cy="210.0" r="4.4"/>
<circle cx="878.77" cy="269.0" r="4.4"/>
<circle cx="880.69" cy="388.9" r="4.4"/>
<circle cx="882.61" cy="314.4" r="4.4"/>
<circle cx="884.52" cy="342.6" r="4.4"/>
<circle cx="886.44" cy="342.7" r="4.4"/>
<circle cx="888.36" cy="430.7" r="4.4"/>
<circle cx="890.28" cy="347.6" r="4.4"/>
<circle cx="892.20" cy="258.9" r="4.4"/>
<circle cx="894.11" cy="417.5" r="4.4"/>
<circle cx="896.03" cy="341.6" r="4.4"/>
<circle cx="897.95" cy="275.4" r="4.4"/>
<circle cx="899.87" cy="382.3" r="4.4"/>
<circle cx="901.79" cy="360.7" r="4.4"/>
<circle cx="903.70" cy="326.1" r="4.4"/>
<circle cx="905.62" cy="490.0" r="4.4"/>
<circle cx="907.54" cy="411.6" r="4.4"/>
<circle cx="909.46" cy="423.7" r="4.4"/>
<circle cx="911.38" cy="223.1" r="4.4"/>
<circle cx="913.29" cy="447.9" r="4.4"/>
<circle cx="915.21" cy="443.6" r="4.4"/>
<circle cx="917.13" cy="229.7" r="4.4"/>
<circle cx="919.05" cy="272.0" r="4.4"/>
<circle cx="920.97" cy="328.1" r="4.4"/>
<circle cx="922.88" cy="285.8" r="4.4"/>
<circle cx="924.80" cy="318.4" r="4.4"/>
<circle cx="926.72" cy="208.1" r="4.4"/>
<circle cx="928.64" cy="440.6" r="4.4"/>
<circle cx="930.56" cy="237.4" r="4.4"/>
<circle cx="932.47" cy="449.7" r="4.4"/>
<circle cx="934.39" cy="399.0" r="4.4"/>
<circle cx="936.31" cy="406.0" r="4.4"/>
<circle cx="938.23" cy="259.3" r="4.4"/>
<circle cx="940.15" cy="178.3" r="4.4"/>
<circle cx="942.06" cy="270.6" r="4.4"/>
<circle cx="943.98" cy="414.0" r="4.4"/>
<circle cx="945.90" cy="320.4" r="4.4"/>
<circle cx="947.82" cy="199.9" r="4.4"/>
<circle cx="949.74" cy="398.0" r="4.4"/>
<circle cx="951.65" cy="299.3" r="4.4"/>
<circle cx="953.57" cy="121.2" r="4.4"/>
<circle cx="955.49" cy="352.6" r="4.4"/>
<circle cx="957.41" cy="388.9" r="4.4"/>
<circle cx="959.33" cy="414.0" r="4.4"/>
<circle cx="961.24" cy="404.0" r="4.4"/>
<circle cx="963.16" cy="355.7" r="4.4"/>
<circle cx="965.08" cy="364.7" r="4.4"/>
<circle cx="967.00" cy="341.6" r="4.4"/>
<circle cx="968.92" cy="319.4" r="4.4"/>
<circle cx="970.83" cy="319.4" r="4.4"/>
<circle cx="972.75" cy="382.3" r="4.4"/>
<circle cx="974.67" cy="250.8" r="4.4"/>
<circle cx="976.59" cy="391.9" r="4.4"/>
<circle cx="978.51" cy="464.4" r="4.4"/>
<circle cx="980.42" cy="363.7" r="4.4"/>
<circle cx="982.34" cy="391.9" r="4.4"/>
<circle cx="984.26" cy="531.5" r="4.4"/>
<circle cx="986.18" cy="291.2" r="4.4"/>
<circle cx="988.10" cy="118.4" r="4.4"/>
<circle cx="990.01" cy="259.3" r="4.4"/>
<circle cx="991.93" cy="298.3" r="4.4"/>
<circle cx="993.85" cy="266.0" r="4.4"/>
<circle cx="995.77" cy="404.6" r="4.4"/>
<circle cx="997.69" cy="312.4" r="4.4"/>
<circle cx="999.60" cy="182.0" r="4.4"/>
</g>
<path d="M392.5 331.9 L394.5 333.7 L396.5 336.1 L398.5 339.0 L400.5 342.8 L402.5 347.1 L404.5 351.4 L406.5 355.7 L408.5 360.2 L410.5 364.7 L412.5 368.9 L414.5 373.0 L416.5 376.9 L418.5 380.6 L420.5 384.2 L422.5 387.6 L424.5 390.4 L426.5 392.7 L428.5 394.8 L430.5 396.7 L432.5 398.5 L434.5 400.1 L436.5 401.4 L438.5 402.6 L440.5 403.6 L442.5 404.4 L444.5 405.1 L446.5 405.8 L448.5 406.5 L450.5 407.0 L452.5 407.5 L454.5 408.0 L456.5 408.4 L458.5 408.7 L460.5 409.0 L462.5 409.3 L464.5 409.6 L466.5 409.9 L468.5 410.1 L470.5 410.4 L472.5 410.6 L474.5 410.8 L476.5 411.1 L478.5 411.3 L480.5 411.6 L482.5 411.9 L484.5 412.2 L486.5 412.6 L488.5 412.8 L490.5 413.0 L492.5 413.2 L494.5 413.3 L496.5 413.5 L498.5 413.6 L500.5 413.7 L502.5 413.8 L504.5 413.8 L506.5 413.9 L508.5 414.0 L510.5 414.0 L512.5 414.1 L514.5 414.2 L516.5 414.3 L518.5 414.4 L520.5 414.5 L522.5 414.6 L524.5 414.7 L526.5 414.8 L528.5 414.9 L530.5 415.0 L532.5 415.2 L534.5 415.3 L536.5 415.4 L538.5 415.5 L540.5 415.7 L542.5 415.8 L544.5 415.9 L546.5 416.0 L548.5 416.1 L550.5 416.3 L552.5 416.4 L554.5 416.5 L556.5 416.6 L558.5 416.6 L560.5 416.7 L562.5 416.8 L564.5 416.8 L566.5 416.9 L568.5 416.9 L570.5 417.0 L572.5 417.0 L574.5 417.0 L576.5 417.0 L578.5 417.1 L580.5 417.1 L582.5 417.1 L584.5 417.2 L586.5 417.2 L588.5 417.2 L590.5 417.2 L592.5 417.2 L594.5 417.3 L596.5 417.3 L598.5 417.3 L600.5 417.3 L602.5 417.3 L604.5 417.3 L606.5 417.3 L608.5 417.3 L610.5 417.2 L612.5 417.2 L614.5 417.2 L616.5 417.1 L618.5 417.0 L620.5 417.0 L622.5 416.9 L624.5 416.8 L626.5 416.7 L628.5 416.6 L630.5 416.5 L632.5 416.5 L634.5 416.4 L636.5 416.3 L638.5 416.2 L640.5 416.1 L642.5 416.0 L644.5 415.9 L646.5 415.8 L648.5 415.7 L650.5 415.6 L652.5 415.5 L654.5 415.4 L656.5 415.3 L658.5 415.2 L660.5 415.1 L662.5 415.0 L664.5 414.9 L666.5 414.7 L668.5 414.5 L670.5 414.3 L672.5 414.0 L674.5 413.8 L676.5 413.6 L678.5 413.3 L680.5 413.0 L682.5 412.7 L684.5 412.4 L686.5 412.1 L688.5 411.8 L690.5 411.5 L692.5 411.2 L694.5 410.9 L696.5 410.6 L698.5 410.2 L700.5 409.9 L702.5 409.6 L704.5 409.3 L706.5 408.9 L708.5 408.6 L710.5 408.2 L712.5 407.8 L714.5 407.3 L716.5 406.8 L718.5 406.3 L720.5 405.7 L722.5 405.2 L724.5 404.6 L726.5 404.0 L728.5 403.3 L730.5 402.6 L732.5 401.6 L734.5 400.3 L736.5 398.8 L738.5 397.4 L740.5 396.0 L742.5 394.5 L744.5 392.7 L746.5 390.6 L748.5 388.3 L750.5 385.5 L752.5 382.3 L754.5 378.5 L756.5 374.5 L758.5 369.9 L760.5 364.9 L762.5 360.0 L764.5 355.1 L766.5 350.2 L768.5 345.5 L770.5 341.3 L772.5 337.5 L776.2 331.9 L810.0 331.9 L806.6 335.8 L804.6 338.6 L802.6 341.8 L800.6 345.2 L798.6 348.7 L796.6 352.3 L794.6 356.0 L792.6 359.6 L790.6 363.2 L788.6 366.8 L786.6 370.4 L784.6 374.0 L782.6 377.7 L780.6 381.1 L778.6 384.4 L776.6 387.6 L774.6 390.6 L772.6 393.6 L770.6 396.4 L768.6 398.9 L766.6 401.1 L764.6 403.1 L762.6 404.9 L760.6 406.5 L758.6 408.0 L756.6 409.2 L754.6 410.2 L752.6 411.0 L750.6 411.7 L748.6 412.7 L746.6 413.6 L744.6 414.6 L742.6 415.5 L740.6 416.3 L738.6 417.1 L736.6 417.8 L734.6 418.5 L732.6 419.1 L730.6 419.7 L728.6 420.3 L726.6 420.8 L724.6 421.4 L722.6 421.9 L720.6 422.4 L718.6 422.9 L716.6 423.4 L714.6 423.9 L712.6 424.4 L710.6 424.8 L708.6 425.2 L706.6 425.7 L704.6 426.1 L702.6 426.4 L700.6 426.8 L698.6 427.1 L696.6 427.5 L694.6 427.8 L692.6 428.1 L690.6 428.4 L688.6 428.6 L686.6 428.9 L684.6 429.1 L682.6 429.3 L680.6 429.5 L678.6 429.7 L676.6 430.0 L674.6 430.3 L672.6 430.6 L670.6 430.8 L668.6 431.1 L666.6 431.4 L664.6 431.7 L662.6 431.9 L660.6 432.1 L658.6 432.3 L656.6 432.5 L654.6 432.7 L652.6 432.9 L650.6 433.1 L648.6 433.2 L646.6 433.3 L644.6 433.4 L642.6 433.5 L640.6 433.6 L638.6 433.7 L636.6 433.8 L634.6 433.9 L632.6 434.0 L630.6 434.1 L628.6 434.2 L626.6 434.3 L624.6 434.4 L622.6 434.5 L620.6 434.6 L618.6 434.7 L616.6 434.8 L614.6 434.9 L612.6 435.0 L610.6 435.1 L608.6 435.1 L606.6 435.2 L604.6 435.2 L602.6 435.2 L600.6 435.2 L598.6 435.2 L596.6 435.2 L594.6 435.2 L592.6 435.2 L590.6 435.2 L588.6 435.2 L586.6 435.1 L584.6 435.1 L582.6 435.1 L580.6 435.1 L578.6 435.1 L576.6 435.1 L574.6 435.1 L572.6 435.0 L570.6 435.0 L568.6 435.0 L566.6 435.0 L564.6 435.0 L562.6 434.9 L560.6 434.8 L558.6 434.7 L556.6 434.6 L554.6 434.5 L552.6 434.4 L550.6 434.2 L548.6 434.1 L546.6 433.9 L544.6 433.7 L542.6 433.6 L540.6 433.4 L538.6 433.2 L536.6 433.0 L534.6 432.8 L532.6 432.6 L530.6 432.5 L528.6 432.3 L526.6 432.1 L524.6 431.9 L522.6 431.8 L520.6 431.6 L518.6 431.5 L516.6 431.3 L514.6 431.2 L512.6 431.1 L510.6 431.0 L508.6 430.9 L506.6 430.8 L504.6 430.7 L502.6 430.6 L500.6 430.5 L498.6 430.4 L496.6 430.2 L494.6 430.1 L492.6 429.9 L490.6 429.8 L488.6 429.6 L486.6 429.5 L484.6 429.3 L482.6 429.2 L480.6 429.0 L478.6 428.8 L476.6 428.7 L474.6 428.5 L472.6 428.3 L470.6 428.1 L468.6 427.9 L466.6 427.7 L464.6 427.4 L462.6 427.2 L460.6 426.9 L458.6 426.6 L456.6 426.2 L454.6 425.8 L452.6 425.4 L450.6 425.0 L448.6 424.5 L446.6 424.0 L444.6 423.5 L442.6 422.9 L440.6 422.2 L438.6 421.4 L436.6 420.5 L434.6 419.5 L432.6 418.3 L430.6 417.1 L428.6 415.7 L426.6 414.4 L424.6 412.9 L422.6 411.5 L420.6 410.2 L418.6 408.8 L416.6 407.4 L414.6 406.0 L412.6 404.4 L410.6 402.4 L408.6 399.6 L406.6 396.3 L404.6 392.6 L402.6 388.9 L400.6 385.0 L398.6 381.0 L396.6 377.1 L394.6 373.4 L392.6 369.6 L390.6 365.8 L388.6 361.9 L386.6 358.1 L384.6 354.5 L382.6 350.8 L380.6 347.3 L378.6 343.9 L376.6 340.6 L374.6 337.5 L372.6 334.6 L370.6 331.9Z" fill="#1f77b4" fill-opacity="0.5" stroke="#1f77b4" stroke-opacity="0.5" stroke-width="1.3"/>
<path d="M170.6 331.9 L381.9 331.9 L383.9 334.5 L385.9 337.5 L387.9 341.2 L389.9 345.6 L391.9 350.0 L393.9 354.1 L395.9 358.1 L397.9 362.1 L399.9 366.1 L401.9 370.1 L403.9 374.1 L405.9 378.0 L407.9 381.6 L409.9 385.0 L411.9 388.2 L413.9 391.3 L415.9 394.3 L417.9 396.9 L419.9 399.3 L421.9 401.3 L423.9 403.2 L425.9 404.7 L427.9 406.1 L429.9 407.3 L431.9 408.4 L433.9 409.5 L435.9 410.6 L437.9 411.7 L439.9 412.9 L441.9 414.0 L443.9 415.0 L445.9 415.9 L447.9 416.5 L449.9 417.1 L451.9 417.6 L453.9 418.1 L455.9 418.5 L457.9 418.9 L459.9 419.2 L461.9 419.6 L463.9 419.8 L465.9 420.1 L467.9 420.3 L469.9 420.5 L471.9 420.7 L473.9 420.9 L475.9 421.1 L477.9 421.3 L479.9 421.5 L481.9 421.7 L483.9 421.9 L485.9 422.2 L487.9 422.3 L489.9 422.5 L491.9 422.6 L493.9 422.7 L495.9 422.8 L497.9 422.9 L499.9 423.0 L501.9 423.1 L503.9 423.2 L505.9 423.3 L507.9 423.4 L509.9 423.5 L511.9 423.6 L513.9 423.7 L515.9 423.8 L517.9 423.9 L519.9 424.0 L521.9 424.1 L523.9 424.2 L525.9 424.2 L527.9 424.3 L529.9 424.4 L531.9 424.5 L533.9 424.6 L535.9 424.7 L537.9 424.8 L539.9 424.8 L541.9 424.9 L543.9 425.0 L545.9 425.1 L547.9 425.2 L549.9 425.2 L551.9 425.3 L553.9 425.4 L555.9 425.4 L557.9 425.5 L559.9 425.5 L561.9 425.6 L563.9 425.6 L565.9 425.7 L567.9 425.7 L569.9 425.7 L571.9 425.8 L573.9 425.8 L575.9 425.8 L577.9 425.9 L579.9 425.9 L581.9 425.9 L583.9 426.0 L585.9 426.0 L587.9 426.0 L589.9 426.0 L591.9 426.1 L593.9 426.1 L595.9 426.1 L597.9 426.1 L599.9 426.1 L601.9 426.1 L603.9 426.1 L605.9 426.1 L607.9 426.1 L609.9 426.0 L611.9 426.0 L613.9 426.0 L615.9 425.9 L617.9 425.9 L619.9 425.8 L621.9 425.8 L623.9 425.7 L625.9 425.7 L627.9 425.6 L629.9 425.5 L631.9 425.3 L633.9 425.2 L635.9 425.1 L637.9 425.0 L639.9 424.9 L641.9 424.8 L643.9 424.7 L645.9 424.6 L647.9 424.5 L649.9 424.4 L651.9 424.3 L653.9 424.2 L655.9 424.1 L657.9 423.9 L659.9 423.8 L661.9 423.6 L663.9 423.5 L665.9 423.3 L667.9 423.1 L669.9 422.9 L671.9 422.7 L673.9 422.5 L675.9 422.2 L677.9 422.0 L679.9 421.7 L681.9 421.4 L683.9 421.1 L685.9 420.8 L687.9 420.5 L689.9 420.2 L691.9 419.8 L693.9 419.4 L695.9 419.0 L697.9 418.5 L699.9 418.1 L701.9 417.7 L703.9 417.3 L705.9 416.9 L707.9 416.5 L709.9 416.1 L711.9 415.7 L713.9 415.3 L715.9 414.9 L717.9 414.5 L719.9 414.1 L721.9 413.7 L723.9 413.3 L725.9 412.8 L727.9 412.2 L729.9 411.7 L731.9 411.0 L733.9 410.4 L735.9 409.7 L737.9 408.9 L739.9 408.1 L741.9 407.2 L743.9 406.2 L745.9 405.0 L747.9 403.6 L749.9 402.0 L751.9 400.1 L753.9 397.9 L755.9 395.4 L757.9 392.7 L759.9 389.9 L761.9 387.1 L763.9 384.2 L765.9 381.0 L767.9 377.7 L769.9 374.3 L771.9 370.7 L773.9 367.0 L775.9 363.4 L777.9 359.8 L779.9 356.2 L781.9 352.6 L783.9 348.9 L785.9 345.3 L787.9 341.8 L789.9 338.2 L791.9 335.5 L793.9 333.5 L796.2 331.9 L998.8 331.9" fill="none" stroke="#1f77b4" stroke-width="2" stroke-linejoin="round"/>
<circle cx="192.65" cy="342.60" r="8.15" fill="#ff0000" stroke="#fff" stroke-width="1.05"/>
<circle cx="235.55" cy="332.50" r="8.15" fill="#ff0000" stroke="#fff" stroke-width="1.05"/>
<circle cx="279.45" cy="329.90" r="8.15" fill="#ff0000" stroke="#fff" stroke-width="1.05"/>
<circle cx="323.15" cy="312.80" r="8.15" fill="#ff0000" stroke="#fff" stroke-width="1.05"/>
<circle cx="366.85" cy="314.80" r="8.15" fill="#ff0000" stroke="#fff" stroke-width="1.05"/>
<circle cx="410.80" cy="393.30" r="8.15" fill="#ff0000" stroke="#fff" stroke-width="1.05"/>
<circle cx="454.10" cy="412.50" r="8.15" fill="#ff0000" stroke="#fff" stroke-width="1.05"/>
<circle cx="497.55" cy="403.30" r="8.15" fill="#ff0000" stroke="#fff" stroke-width="1.05"/>
<circle cx="541.45" cy="415.30" r="8.15" fill="#ff0000" stroke="#fff" stroke-width="1.05"/>
<circle cx="584.65" cy="418.00" r="8.15" fill="#ff0000" stroke="#fff" stroke-width="1.05"/>
<circle cx="628.25" cy="416.20" r="8.15" fill="#ff0000" stroke="#fff" stroke-width="1.05"/>
<circle cx="672.25" cy="429.20" r="8.15" fill="#ff0000" stroke="#fff" stroke-width="1.05"/>
<circle cx="715.35" cy="456.80" r="8.15" fill="#ff0000" stroke="#fff" stroke-width="1.05"/>
<circle cx="759.15" cy="395.90" r="8.15" fill="#ff0000" stroke="#fff" stroke-width="1.05"/>
<circle cx="803.05" cy="325.30" r="8.15" fill="#ff0000" stroke="#fff" stroke-width="1.05"/>
<circle cx="846.25" cy="330.90" r="8.15" fill="#ff0000" stroke="#fff" stroke-width="1.05"/>
<circle cx="890.25" cy="331.90" r="8.15" fill="#ff0000" stroke="#fff" stroke-width="1.05"/>
<circle cx="933.95" cy="315.20" r="8.15" fill="#ff0000" stroke="#fff" stroke-width="1.05"/>
<circle cx="977.25" cy="348.40" r="8.15" fill="#ff0000" stroke="#fff" stroke-width="1.05"/>
</g>
<rect x="170.6" y="8.6" width="828.1999999999999" height="646.6999999999999" fill="none" stroke="#000" stroke-width="1"/>
<path d="M170.6 8.6h-20.5" stroke="#000" stroke-width="2.8"/>
<text x="144.4" y="17.6" font-size="22.7" letter-spacing="0.62" text-anchor="end">0.0020</text>
<path d="M170.6 89.4h-20.5" stroke="#000" stroke-width="2.8"/>
<text x="144.4" y="98.4" font-size="22.7" letter-spacing="0.62" text-anchor="end">0.0015</text>
<path d="M170.6 170.2h-20.5" stroke="#000" stroke-width="2.8"/>
<text x="144.4" y="179.2" font-size="22.7" letter-spacing="0.62" text-anchor="end">0.0010</text>
<path d="M170.6 251.0h-20.5" stroke="#000" stroke-width="2.8"/>
<text x="144.4" y="260.0" font-size="22.7" letter-spacing="0.62" text-anchor="end">0.0005</text>
<path d="M170.6 331.8h-20.5" stroke="#000" stroke-width="2.8"/>
<text x="144.4" y="340.8" font-size="22.7" letter-spacing="0.62" text-anchor="end">0.0000</text>
<path d="M170.6 412.7h-20.5" stroke="#000" stroke-width="2.8"/>
<text x="144.4" y="421.7" font-size="22.7" letter-spacing="0.62" text-anchor="end">−0.0005</text>
<path d="M170.6 493.5h-20.5" stroke="#000" stroke-width="2.8"/>
<text x="144.4" y="502.5" font-size="22.7" letter-spacing="0.62" text-anchor="end">−0.0010</text>
<path d="M170.6 574.4h-20.5" stroke="#000" stroke-width="2.8"/>
<text x="144.4" y="583.4" font-size="22.7" letter-spacing="0.62" text-anchor="end">−0.0015</text>
<path d="M170.6 655.2h-20.5" stroke="#000" stroke-width="2.8"/>
<text x="144.4" y="664.2" font-size="22.7" letter-spacing="0.62" text-anchor="end">−0.0020</text>
<path d="M308.0 655.3v20.5" stroke="#000" stroke-width="2.8"/>
<text x="308.3" y="699.3" font-size="22.7" letter-spacing="0.65" text-anchor="middle">434.9</text>
<path d="M446.1 655.3v20.5" stroke="#000" stroke-width="2.8"/>
<text x="446.40000000000003" y="699.3" font-size="22.7" letter-spacing="0.65" text-anchor="middle">435.0</text>
<path d="M584.2 655.3v20.5" stroke="#000" stroke-width="2.8"/>
<text x="584.5" y="699.3" font-size="22.7" letter-spacing="0.65" text-anchor="middle">435.1</text>
<path d="M722.4 655.3v20.5" stroke="#000" stroke-width="2.8"/>
<text x="722.6999999999999" y="699.3" font-size="22.7" letter-spacing="0.65" text-anchor="middle">435.2</text>
<path d="M860.5 655.3v20.5" stroke="#000" stroke-width="2.8"/>
<text x="860.8" y="699.3" font-size="22.7" letter-spacing="0.65" text-anchor="middle">435.3</text>
<text x="585.2" y="737.0" font-size="35.3" letter-spacing="0.16" text-anchor="middle">BJD - 2459000 (days)</text>
<text transform="translate(28.3,331.8) rotate(-90)" font-size="35.3" letter-spacing="0.16" text-anchor="middle">Detrended Flux</text>
<rect x="184" y="21.8" width="205" height="126.3" rx="5" ry="5" fill="#fff" fill-opacity="0.8" stroke="#ccc" stroke-opacity="0.8" stroke-width="1.3"/>
<path d="M192.8 43.5H248.8" stroke="#1f77b4" stroke-width="2" fill="none"/>
<circle cx="220.8" cy="83" r="8.15" fill="#ff0000" stroke="#fff" stroke-width="1.05"/>
<path d="M220.8 109.5V136" stroke="#808080" stroke-opacity="0.8" stroke-width="1.9"/>
<circle cx="220.8" cy="122.6" r="4.4" fill="#808080" fill-opacity="0.8" stroke="#808080" stroke-opacity="0.8" stroke-width="1.26"/>
<text x="269.0" y="52.9" font-size="26.5">Planet h</text>
<text x="269.0" y="92.3" font-size="26.5">Binned</text>
<text x="269.0" y="131.8" font-size="26.5">TESS</text>
</svg></body></html>
